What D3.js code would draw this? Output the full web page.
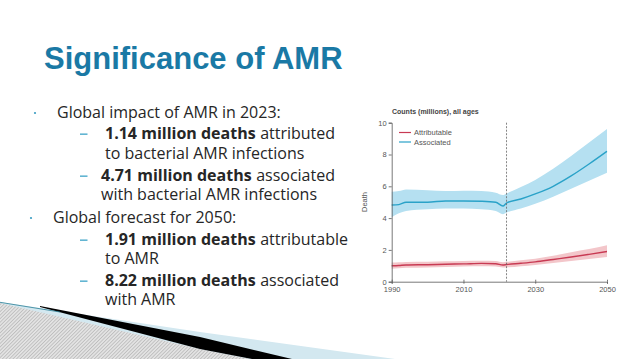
<!DOCTYPE html>
<html>
<head>
<meta charset="utf-8">
<script src="https://cdn.jsdelivr.net/npm/d3@7"></script>
<style>
  body { margin: 0; background: #fff; }
  svg { display: block; }
  .bul text { font-family: "Open Sans", sans-serif; font-size: 16px; fill: #262626; }
  .bul text.b { font-weight: bold; }
  .ch text { font-family: "Liberation Sans", Arial, sans-serif; font-size: 7.5px; fill: #555; }
</style>
</head>
<body>
<div id="container"></div>
<script>
var W = 638, H = 359;

// data (deaths, millions)
var years    = [1990, 1992, 1994, 2000, 2005, 2010, 2015, 2019, 2021, 2022, 2026, 2030, 2035, 2040, 2045, 2050];
var assoc    = [4.82, 4.85, 5.0, 5.0, 5.08, 5.08, 5.06, 5.0, 4.76, 4.95, 5.2, 5.52, 6.0, 6.65, 7.4, 8.2];
var assocLo  = [4.05, 4.3, 4.45, 4.55, 4.6, 4.6, 4.55, 4.45, 4.25, 4.35, 4.6, 4.9, 5.35, 5.85, 6.35, 6.85];
var assocHi  = [5.65, 5.7, 5.8, 5.75, 5.7, 5.72, 5.7, 5.6, 5.45, 5.55, 5.95, 6.4, 7.1, 7.9, 8.75, 9.6];
var attr     = [1.0, 1.02, 1.05, 1.07, 1.1, 1.12, 1.15, 1.13, 1.05, 1.08, 1.16, 1.25, 1.4, 1.55, 1.72, 1.9];
var attrLo   = [0.82, 0.85, 0.88, 0.9, 0.92, 0.95, 0.97, 0.95, 0.9, 0.9, 0.97, 1.05, 1.17, 1.3, 1.42, 1.55];
var attrHi   = [1.2, 1.22, 1.24, 1.25, 1.28, 1.3, 1.32, 1.3, 1.22, 1.25, 1.35, 1.45, 1.63, 1.85, 2.05, 2.3];
var forecastStart = 2022;
var xTicks = [1990, 2010, 2030, 2050];
var yTicks = [0, 2, 4, 6, 8, 10];
var legendNames = ["Attributable", "Associated"];

// slide text
var title = "Significance of AMR";
var bullets = [
  {kind: "bullet", x: 57, y: 118, parts: [["Global impact of AMR in 2023:", 0]]},
  {kind: "dash", x: 105, y: 139, parts: [["1.14 million deaths", 1], ["attributed", 0]]},
  {kind: "", x: 105, y: 159, parts: [["to bacterial AMR infections", 0]]},
  {kind: "dash", x: 101, y: 181, parts: [["4.71 million deaths", 1], ["associated", 0]]},
  {kind: "", x: 101, y: 200, parts: [["with bacterial AMR infections", 0]]},
  {kind: "bullet", x: 53, y: 223, parts: [["Global forecast for 2050:", 0]]},
  {kind: "dash", x: 105, y: 245, parts: [["1.91 million deaths", 1], ["attributable", 0]]},
  {kind: "", x: 105, y: 264, parts: [["to AMR", 0]]},
  {kind: "dash", x: 105, y: 286, parts: [["8.22 million deaths", 1], ["associated", 0]]},
  {kind: "", x: 105, y: 305, parts: [["with AMR", 0]]}
];

var svg = d3.select("#container").append("svg")
    .attr("width", W)
    .attr("height", H);

svg.append("rect").attr("width", W).attr("height", H).attr("fill", "#fff");

//hatched corner decoration
var defs = svg.append("defs");
var pat = defs.append("pattern")
    .attr("id", "hatch")
    .attr("patternUnits", "userSpaceOnUse")
    .attr("width", 2.5).attr("height", 2.5)
    .attr("patternTransform", "rotate(45)");
pat.append("rect").attr("width", 2.5).attr("height", 2.5).attr("fill", "#e4e4e4");
pat.append("rect").attr("width", 0.9).attr("height", 2.5).attr("fill", "#bdbdbd");

var deco = svg.append("g").attr("class", "deco");
deco.append("path")
    .attr("d", "M0,302 L200,332 L395,359 L0,359 Z")
    .attr("fill", "#d3e8f0");
deco.append("path")
    .attr("d", "M0,303 L200,349 L250,359 L0,359 Z")
    .attr("fill", "url(#hatch)");
deco.append("path")
    .attr("d", "M40,306 L200,337 L292,359 L252,359 L200,349 L40,307 Z")
    .attr("fill", "#000");
deco.append("path")
    .attr("d", "M0,302.3 L60,312")
    .attr("stroke", "#2b7f95").attr("stroke-width", 0.8).attr("fill", "none");

//title
svg.append("text")
    .attr("x", 44).attr("y", 69)
    .style("font-family", "'Liberation Sans', Arial, sans-serif")
    .style("font-size", "31px")
    .style("font-weight", "bold")
    .attr("fill", "#1a79a5")
    .text(title);

//bullet list: bold run and plain run are separate texts, the plain one placed after the bold one
var list = svg.append("g").attr("class", "bul");
bullets.forEach(function(b) {
  if (b.kind == "bullet") {
    list.append("circle").attr("cx", b.x - 22).attr("cy", b.y - 5).attr("r", 1.1).attr("fill", "#3a9cc2");
  }
  if (b.kind == "dash") {
    list.append("rect").attr("x", 80).attr("y", b.y - 5.5).attr("width", 7.5).attr("height", 1.3).attr("fill", "#3ea3c8");
  }
  var cx = b.x;
  b.parts.forEach(function(p, i) {
    var t = list.append("text")
        .attr("class", p[1] ? "b" : null)
        .attr("x", cx).attr("y", b.y)
        .text(p[0]);
    cx += t.node().getComputedTextLength() + 4.5;
  });
});

//chart
var ch = svg.append("g").attr("class", "ch");
var x = d3.scaleLinear().domain([1990, 2050]).range([391.7, 607]);
var y = d3.scaleLinear().domain([0, 10]).range([281.7, 122.7]);

var rows = years.map(function(yr, i) {
  return {year: yr, assoc: assoc[i], assocLo: assocLo[i], assocHi: assocHi[i],
          attr: attr[i], attrLo: attrLo[i], attrHi: attrHi[i]};
});

function band(lo, hi) {
  return d3.area().curve(d3.curveMonotoneX)
    .x(function(d) { return x(d.year); })
    .y0(function(d) { return y(d[lo]); })
    .y1(function(d) { return y(d[hi]); });
}
function line(key) {
  return d3.line().curve(d3.curveMonotoneX)
    .x(function(d) { return x(d.year); })
    .y(function(d) { return y(d[key]); });
}

ch.append("path").datum(rows).attr("d", band("assocLo", "assocHi")).attr("fill", "#b5e0f1");
ch.append("path").datum(rows).attr("d", band("attrLo", "attrHi")).attr("fill", "#f3c6ca");
ch.append("path").datum(rows).attr("d", line("assoc"))
    .attr("fill", "none").attr("stroke", "#2aa2c8").attr("stroke-width", 1.4);
ch.append("path").datum(rows).attr("d", line("attr"))
    .attr("fill", "none").attr("stroke", "#c83a53").attr("stroke-width", 1.4);

ch.append("line")
    .attr("x1", x(forecastStart)).attr("x2", x(forecastStart))
    .attr("y1", y(10)).attr("y2", y(0))
    .attr("stroke", "#666").attr("stroke-width", 0.8).attr("stroke-dasharray", "2,1.5");

//axes
var yAxis = ch.append("g")
    .attr("transform", "translate(" + x(1990) + ",0)")
    .call(d3.axisLeft(y).tickValues(yTicks).tickSize(3).tickPadding(2));
var xAxis = ch.append("g")
    .attr("transform", "translate(0," + y(0) + ")")
    .call(d3.axisBottom(x).tickValues(xTicks).tickFormat(d3.format("d")).tickSize(2).tickPadding(3));
[xAxis, yAxis].forEach(function(a) {
  a.select(".domain").attr("stroke", "#555").attr("stroke-width", 0.8);
  a.selectAll(".tick line").attr("stroke", "#555").attr("stroke-width", 0.8);
  a.selectAll("text").attr("font-family", null).attr("font-size", null);
});
xAxis.selectAll(".tick").append("line").attr("y2", -2).attr("stroke", "#555").attr("stroke-width", 0.8);

ch.append("text")
    .attr("x", 392).attr("y", 114)
    .style("font-family", "'Liberation Sans Narrow', 'Liberation Sans', sans-serif")
    .style("font-size", "7px")
    .style("font-weight", "bold")
    .style("fill", "#444")
    .text("Counts (millions), all ages");

ch.append("text")
    .attr("transform", "translate(367,202) rotate(-90)")
    .attr("text-anchor", "middle")
    .text("Death");

//legend
var legColors = ["#c83a53", "#2aa2c8"];
var leg = ch.selectAll(".leg").data(legendNames).enter().append("g")
    .attr("class", "leg")
    .attr("transform", function(d, i) { return "translate(399," + (132.5 + i * 9.5) + ")"; });
leg.append("line").attr("x2", 12).attr("stroke", function(d, i) { return legColors[i]; }).attr("stroke-width", 1.2);
leg.append("text").attr("x", 15).attr("y", 2.6).text(function(d) { return d; });
</script>
</body>
</html>
